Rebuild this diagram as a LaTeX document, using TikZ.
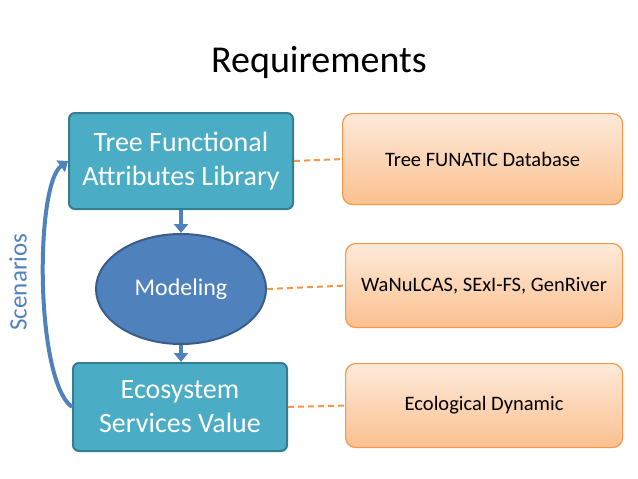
\documentclass[tikz,border=0pt]{standalone}
\usepackage{fontspec}
\setmainfont{Carlito}
\usetikzlibrary{shapes.geometric,arrows.meta}
\definecolor{teal1}{HTML}{4BACC6}
\definecolor{teal2}{HTML}{357D91}
\definecolor{blue1}{HTML}{4F81BD}
\definecolor{blue2}{HTML}{385D8A}
\definecolor{org}{HTML}{F79646}
\definecolor{orgl}{HTML}{FDEADA}
\definecolor{orgd}{HTML}{FBC08F}
\begin{document}
\begin{tikzpicture}[x=1pt,y=-1pt,
  tbox/.style={draw=teal2,line width=2pt,fill=teal1,rounded corners=6pt,text=white,
    font=\fontsize{28}{34}\selectfont,align=center,anchor=north west},
  obox/.style={draw=org,line width=1.2pt,top color=orgl,bottom color=orgd,rounded corners=10pt,
    font=\fontsize{20.5}{25}\selectfont,align=center,anchor=north west},
  dashlink/.style={draw=org,line width=2pt,dash pattern=on 6pt off 4pt},
  arr/.style={draw=blue1,line width=4pt,-{Triangle[length=9pt,width=14pt]}}]
\useasboundingbox (0,0) rectangle (638,479);
\node[font=\fontsize{38}{44}\selectfont] (title) at (319,62) {Requirements};
\node[tbox,minimum width=224pt,minimum height=96pt] (tfa) at (68,112) {Tree Functional\\Attributes Library};
\node[ellipse,draw=blue2,line width=2pt,fill=blue1,text=white,minimum width=170pt,minimum height=110pt,
  font=\fontsize{24}{28}\selectfont] (mod) at (181,289) {Modeling};
\node[tbox,minimum width=214pt,minimum height=88pt] (esv) at (72,362) {Ecosystem\\Services Value};
\node[obox,minimum width=280pt,minimum height=91pt] (db) at (342,113) {Tree FUNATIC Database};
\node[obox,minimum width=277pt,minimum height=84pt] (wan) at (345,243) {WaNuLCAS, SExI-FS, GenRiver};
\node[obox,minimum width=277pt,minimum height=84pt] (eco) at (345,363) {Ecological Dynamic};
\draw[dashlink] (tfa.east) -- (db.west);
\draw[dashlink] (mod.east) -- (wan.west);
\draw[dashlink] (esv.east) -- (eco.west);
\draw[arr] (tfa.south) -- (mod.north);
\draw[arr] (mod.south) -- (mod.south |- esv.north);
\draw[arr] (esv.west) .. controls (35,380) and (35,185) .. (tfa.west);
\node[rotate=90,text=blue1,font=\fontsize{25}{30}\selectfont] (scen) at (18,282) {Scenarios};
\end{tikzpicture}
\end{document}
